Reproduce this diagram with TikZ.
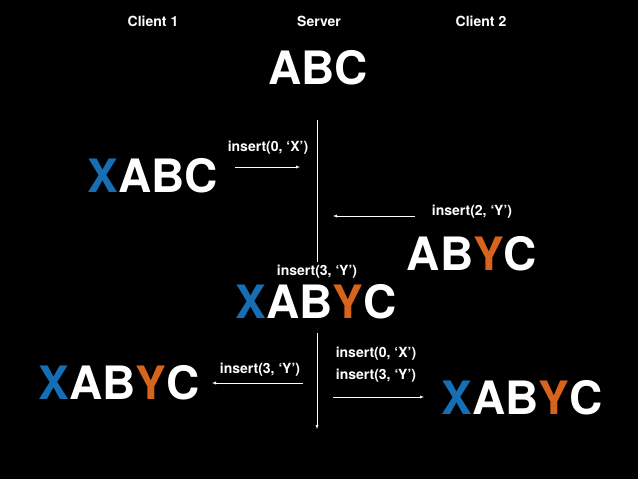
\documentclass[tikz,border=0pt]{standalone}
\usepackage{fontspec}
\setmainfont{TeX Gyre Heros}
\definecolor{xblue}{RGB}{22,110,180}
\definecolor{yorange}{RGB}{214,100,28}
\tikzset{
  head/.style={text=white, font=\bfseries\fontsize{14}{16}\selectfont},
  doc/.style={text=white, font=\bfseries\fontsize{46}{50}\selectfont},
  op/.style={text=white, font=\bfseries\fontsize{14}{16}\selectfont},
  msg/.style={white, thin, -latex},
}
\newcommand{\X}{\textcolor{xblue}{X}}
\newcommand{\Y}{\textcolor{yorange}{Y}}
\begin{document}
\begin{tikzpicture}[x=1pt,y=-1pt]
  \fill[black] (0,0) rectangle (638,479);
  \useasboundingbox (0,0) rectangle (638,479);

  \node[head] (c1) at (153,21) {Client 1};
  \node[head] (sv) at (319,21) {Server};
  \node[head] (c2) at (481,21) {Client 2};

  \node[doc] (abc) at (318,68) {ABC};
  \node[doc] (xabc) at (153,176) {\X ABC};
  \node[doc] (abyc) at (472,254) {AB\Y C};
  \node[doc] (sxabyc) at (316,302) {\X AB\Y C};
  \node[doc] (axabyc) at (119,383) {\X AB\Y C};
  \node[doc] (bxabyc) at (522,398) {\X AB\Y C};

  \coordinate (t1) at (317,120);
  \coordinate (t2) at (317,262);
  \coordinate (t3) at (317,333);
  \coordinate (t4) at (317,429);
  \draw[white, thin] (t1) -- (t2);
  \draw[msg] (t3) -- (t4);

  % client 1 sends
  \node[op] (o1) at (268,148) {insert(0, ‘X’)};
  \coordinate (a1) at (235,167);
  \coordinate (b1) at (300,167);
  \draw[msg] (a1) -- (b1);

  % client 2 sends
  \node[op] (o2) at (472,212) {insert(2, ‘Y’)};
  \coordinate (a2) at (415,216);
  \coordinate (b2) at (333,216);
  \draw[msg] (a2) -- (b2);

  \node[op] (o3) at (317,272) {insert(3, ‘Y’)};

  % server broadcasts
  \node[op] (o4) at (260,370) {insert(3, ‘Y’)};
  \coordinate (a4) at (303,383);
  \coordinate (b4) at (212,383);
  \draw[msg] (a4) -- (b4);

  \node[op] (o5) at (376,354) {insert(0, ‘X’)};
  \node[op] (o6) at (376,376) {insert(3, ‘Y’)};
  \coordinate (a5) at (333,397);
  \coordinate (b5) at (424,397);
  \draw[msg] (a5) -- (b5);
\end{tikzpicture}
\end{document}
